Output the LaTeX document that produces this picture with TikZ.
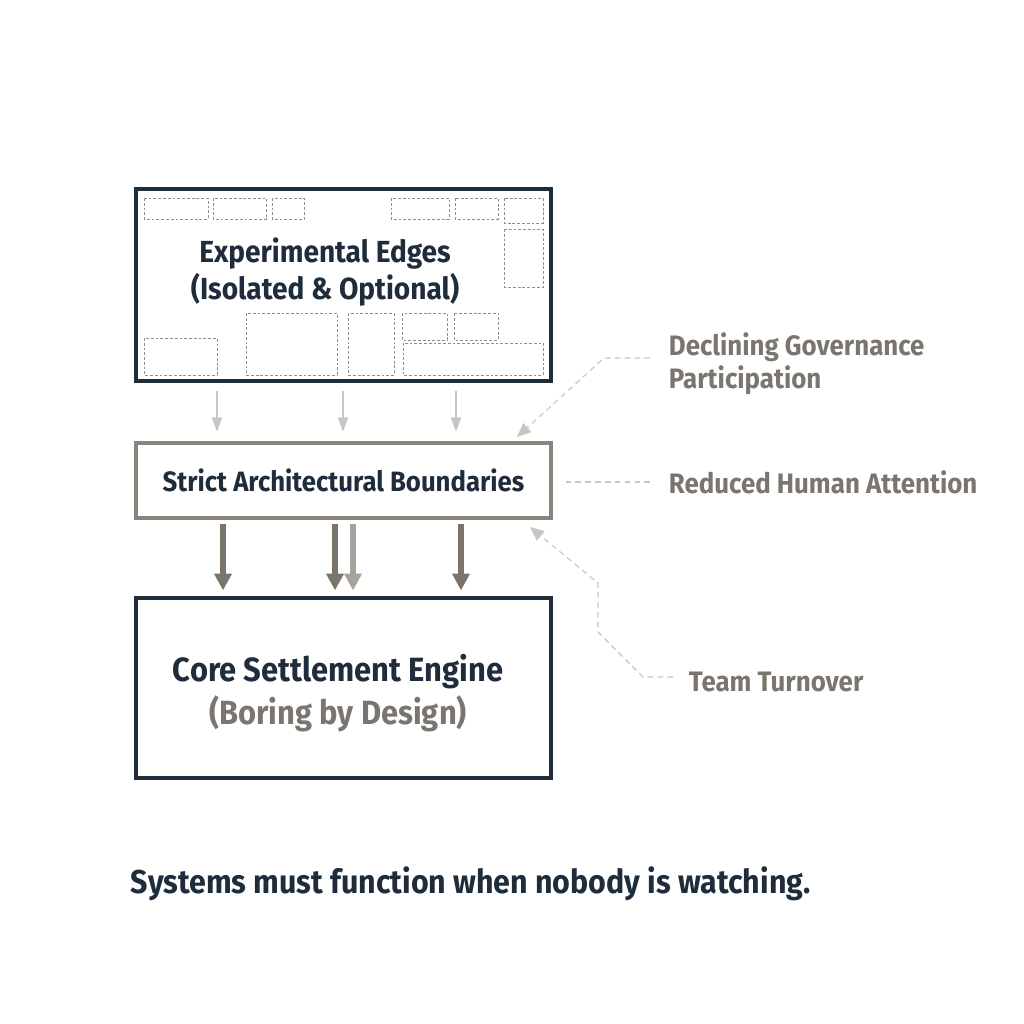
\documentclass[tikz,border=0pt]{standalone}
\usepackage{fontspec}
\setmainfont{Fira Sans}[FakeStretch=0.92]
\usepackage{xcolor}
\usetikzlibrary{arrows.meta, positioning, calc}
\definecolor{navy}{HTML}{1F2C3B}
\definecolor{taupe}{HTML}{8A847C}
\definecolor{flowc}{HTML}{7B746C}
\definecolor{flowl}{HTML}{A7A29C}
\definecolor{faint}{HTML}{C6C6C6}
\definecolor{labelc}{HTML}{7A756E}
\definecolor{slotc}{HTML}{8E8E8E}

\begin{document}
\begin{tikzpicture}[x=0.25mm, y=-0.25mm,
    bigbox/.style={draw=navy, line width=2.2pt, fill=white, minimum width=103.75mm, inner sep=0pt},
    slot/.style={draw=slotc, line width=0.6pt, dash pattern=on 2pt off 1.4pt},
    faintarr/.style={draw=faint, line width=0.9pt, -{Triangle[length=3.5mm, width=2.6mm]}},
    flowarr/.style={draw=flowc, line width=1.7mm, -{Triangle[length=4.2mm, width=4.2mm]}},
    hint/.style={draw=faint, line width=0.8pt, dash pattern=on 4pt off 3pt},
    side/.style={anchor=west, text=labelc, align=left, font=\bfseries\fontsize{20}{23.5}\selectfont}]
    \fill[white] (0,0) rectangle (1024,1024);
    \useasboundingbox (0,0) rectangle (1024,1024);

    % three layers
    \node[bigbox, minimum height=48mm] (edges) at (343.5,285) {};
    \node[text=navy, align=center, font=\bfseries\fontsize{21.7}{26}\selectfont] (edgestxt) at (325,272)
        {Experimental Edges\\(Isolated \& Optional)};
    \node[bigbox, draw=taupe, minimum height=18.75mm, text=navy,
        font=\bfseries\fontsize{19.9}{22}\selectfont] (strict) at (343.5,480.5) {Strict Architectural Boundaries};
    \node[bigbox, minimum height=45mm] (core) at (343.5,688) {};
    \node[align=center, font=\bfseries\fontsize{23.9}{30.5}\selectfont] (coretxt) at (338,693)
        {\textcolor{navy}{Core Settlement Engine}\\\textcolor{labelc}{(Boring by Design)}};

    % optional slots in the edge layer
    \foreach \a/\b/\c/\d in {144/198/208/219, 213/198/266/219, 272/198/304/219,
        391/198/449/219, 455/198/498/219, 504/198/543/223, 504/229/543/287,
        144/338/217/375, 246/313/337/375, 348/313/394/375, 402/313/447/340,
        454/313/498/340, 403/343/543/375}
        \draw[slot] (\a,\b) rectangle (\c,\d);

    % flows between layers
    \foreach \x in {217,343,456}
        \draw[faintarr] ([yshift=-2mm]edges.south -| \x,0) -- ([yshift=2.5mm]strict.north -| \x,0);
    \foreach \x in {223,335,461}
        \draw[flowarr] ([yshift=-1mm]strict.south -| \x,0) -- ([yshift=1.5mm]core.north -| \x,0);
    \draw[flowarr, draw=flowl] ([yshift=-1mm]strict.south -| 353,0) -- ([yshift=1.5mm]core.north -| 353,0);

    % pressures
    \node[side] (gov) at (664,364) {Declining Governance\\Participation};
    \node[side] (attn) at (664,482) {Reduced Human Attention};
    \node[side] (turn) at (684,682) {Team Turnover};
    \coordinate (govend) at (650,358);
    \coordinate (turnend) at (673,677);
    \draw[hint, -{Triangle[length=3.5mm, width=3mm]}] (govend) -- (604,358) -- (517,437);
    \draw[hint] ([xshift=-3.5mm]attn.west) -- ([xshift=2.8mm]strict.east |- attn.west);
    \draw[hint, -{Triangle[length=3.5mm, width=3mm]}] (turnend) -- (643,677) -- (598,632) -- (598,583) -- (530,527);

    \node[anchor=west, text=navy, font=\bfseries\fontsize{23.5}{26}\selectfont] (motto) at (126,884)
        {Systems must function when nobody is watching.};
\end{tikzpicture}
\end{document}
